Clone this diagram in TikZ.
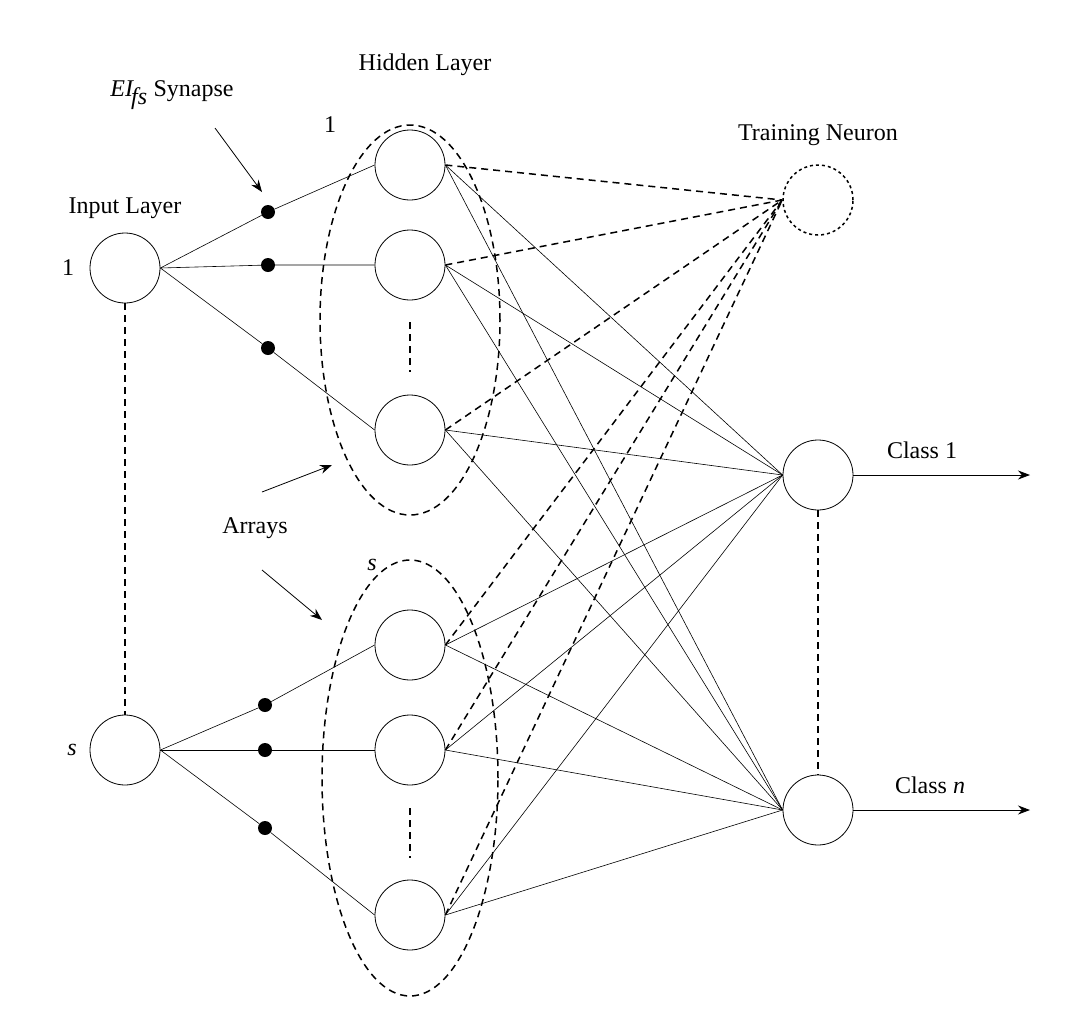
\documentclass[tikz,border=0pt]{standalone}
\usepackage{fontspec}
\setmainfont{Liberation Serif}
\usetikzlibrary{arrows.meta}
\begin{document}
\begin{tikzpicture}[x=1pt,y=-1pt,
  neu/.style={circle,draw,line width=0.8pt,minimum size=70pt,inner sep=0},
  dot/.style={circle,fill=black,minimum size=14pt,inner sep=0},
  syn/.style={line width=0.6pt},
  dsh/.style={dashed,line width=1.5pt,dash pattern=on 7pt off 5pt},
  lab/.style={font=\fontsize{24}{28}\selectfont},
  arr/.style={line width=0.8pt,-{Stealth[length=12pt,width=9pt]}}]
\useasboundingbox (0,0) rectangle (1072,1018);
\node[neu] (i1) at (125,268) {};
\node[neu] (is) at (125,750) {};
\node[neu] (h1) at (410,165) {};
\node[neu] (h2) at (410,265) {};
\node[neu] (h3) at (410,430) {};
\node[neu] (h4) at (410,645) {};
\node[neu] (h5) at (410,750) {};
\node[neu] (h6) at (410,915) {};
\node[neu,dashed,line width=1.5pt] (t) at (818,200) {};
\node[neu] (c1) at (818,475) {};
\node[neu] (cn) at (818,810) {};
\draw[dsh] (410,320) ellipse (90pt and 195pt);
\draw[dsh] (410,778) ellipse (88pt and 218pt);
\foreach \d/\x/\y/\h/\src in {d1/268/212/h1/i1,d2/268/265/h2/i1,d3/268/348/h3/i1,d4/265/705/h4/is,d5/265/750/h5/is,d6/265/828/h6/is}{
  \node[dot] (\d) at (\x,\y) {};
  \draw[syn] (\src.east) -- (\d) -- (\h.west);
}
\foreach \h in {h1,h2,h3,h4,h5,h6}{
  \draw[syn] (\h.east) -- (c1.west);
  \draw[syn] (\h.east) -- (cn.west);
  \draw[dsh] (\h.east) -- (t.west);
}
\draw[dsh] (i1.south) -- (is.north);
\draw[dsh] (410,322) -- (410,372);
\draw[dsh] (410,808) -- (410,858);
\draw[dsh] (c1.south) -- (cn.north);
\coordinate (o1) at (1030,475);
\coordinate (on) at (1030,810);
\draw[arr] (c1.east) -- (o1);
\draw[arr] (cn.east) -- (on);
\node[lab] (lin) at (125,208) {Input Layer};
\node[lab] (l1) at (68,268) {1};
\node[lab] (ls) at (72,750) {\itshape s};
\node[lab] (lh) at (425,65) {Hidden Layer};
\node[lab] (lh1) at (330,125) {1};
\node[lab] (lhs) at (372,565) {\itshape s};
\node[lab] (lsyn) at (172,95) {\textit{EI}$_{\!\textit{fs}}$ Synapse};
\node[lab] (ltr) at (818,135) {Training Neuron};
\node[lab] (larr) at (255,528) {Arrays};
\node[lab] (lc1) at (922,450) {Class 1};
\node[lab] (lcn) at (930,785) {Class \textit{n}};
\coordinate (a1s) at (215,128); \coordinate (a1e) at (262,192);
\coordinate (a2s) at (262,492); \coordinate (a2e) at (332,465);
\coordinate (a3s) at (262,570); \coordinate (a3e) at (322,620);
\draw[arr] (a1s) -- (a1e);
\draw[arr] (a2s) -- (a2e);
\draw[arr] (a3s) -- (a3e);
\end{tikzpicture}
\end{document}
